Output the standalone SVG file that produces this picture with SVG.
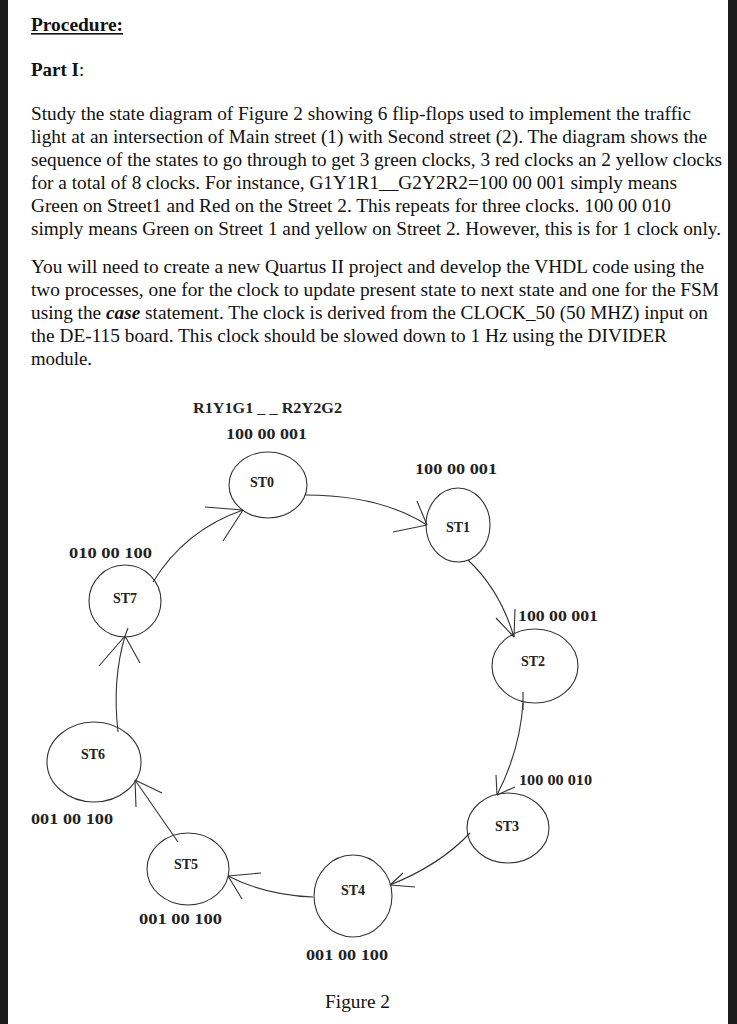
<svg xmlns="http://www.w3.org/2000/svg" width="737" height="1024" viewBox="0 0 737 1024">
<style>
.p{font-family:"Liberation Serif","Times New Roman",serif;font-size:19px;fill:#111}
.b{font-weight:bold}
.d{font-family:"Liberation Serif","Times New Roman",serif;font-size:14px;font-weight:bold;fill:#222}
.st{font-family:"Liberation Serif","Times New Roman",serif;font-size:14px;font-weight:bold;fill:#222;text-anchor:middle}
.n{fill:none;stroke:#333;stroke-width:1.1}
.e{fill:none;stroke:#333;stroke-width:1.1}
</style>
<rect x="0" y="0" width="737" height="1024" fill="#fff"/>
<rect x="0" y="0" width="8" height="1024" fill="#1c1c1c"/>
<rect x="728" y="0" width="9" height="1024" fill="#1c1c1c"/>

<text class="p b" x="31" y="31" textLength="92" lengthAdjust="spacingAndGlyphs">Procedure:</text>
<rect x="31" y="33" width="92" height="1.6" fill="#111"/>
<text class="p" x="31" y="76"><tspan class="b">Part I</tspan>:</text>

<text class="p" x="31" y="120" textLength="660" lengthAdjust="spacingAndGlyphs">Study the state diagram of Figure 2 showing 6 flip-flops used to implement the traffic</text>
<text class="p" x="31" y="143" textLength="676" lengthAdjust="spacingAndGlyphs">light at an intersection of Main street (1) with Second street (2). The diagram shows the</text>
<text class="p" x="31" y="166" textLength="691" lengthAdjust="spacingAndGlyphs">sequence of the states to go through to get 3 green clocks, 3 red clocks an 2 yellow clocks</text>
<text class="p" x="31" y="189" textLength="646" lengthAdjust="spacingAndGlyphs">for a total of 8 clocks. For instance, G1Y1R1__G2Y2R2=100 00 001 simply means</text>
<text class="p" x="31" y="212" textLength="640" lengthAdjust="spacingAndGlyphs">Green on Street1 and Red on the Street 2. This repeats for three clocks. 100 00 010</text>
<text class="p" x="31" y="235" textLength="690" lengthAdjust="spacingAndGlyphs">simply means Green on Street 1 and yellow on Street 2. However, this is for 1 clock only.</text>

<text class="p" x="31" y="273" textLength="673" lengthAdjust="spacingAndGlyphs">You will need to create a new Quartus II project and develop the VHDL code using the</text>
<text class="p" x="31" y="296" textLength="688" lengthAdjust="spacingAndGlyphs">two processes, one for the clock to update present state to next state and one for the FSM</text>
<text class="p" x="31" y="319" textLength="677" lengthAdjust="spacingAndGlyphs">using the <tspan class="b" font-style="italic">case</tspan> statement. The clock is derived from the CLOCK_50 (50 MHZ) input on</text>
<text class="p" x="31" y="342" textLength="636" lengthAdjust="spacingAndGlyphs">the DE-115 board. This clock should be slowed down to 1 Hz using the DIVIDER</text>
<text class="p" x="31" y="365" textLength="61" lengthAdjust="spacingAndGlyphs">module.</text>

<text class="d" x="193" y="413" textLength="149" lengthAdjust="spacingAndGlyphs">R1Y1G1 _ _ R2Y2G2</text>
<text class="d" x="226" y="439" textLength="81" lengthAdjust="spacingAndGlyphs">100  00  001</text>

<g id="connectors">
  <path class="e" d="M305,495 Q380,495 427,525"/>
  <path class="e" d="M417,501 L427,525 M393,532 L427,525"/>
  <path class="e" d="M468,560 Q500,590 514,637"/>
  <path class="e" d="M496,618 L514,637 M515,609 L514,637"/>
  <path class="e" d="M523,703 Q520,750 497,795"/>
  <path class="e" d="M496,775 L497,795 M515,787 L497,795 M523,692 L523,710"/>
  <path class="e" d="M470,833 Q440,865 390,885"/>
  <path class="e" d="M403,873 L390,885 M415,887 L390,885"/>
  <path class="e" d="M313,897 Q265,895 228,876"/>
  <path class="e" d="M261,873 L228,876 M242,899 L228,876"/>
  <path class="e" d="M178,842 L135,780"/>
  <path class="e" d="M162,793 L135,780 M136,807 L135,780"/>
  <path class="e" d="M118,732 Q112,680 125,636"/>
  <path class="e" d="M99,666 L125,636 M140,663 L125,636 M128,628 L125,636"/>
  <path class="e" d="M153,582 Q185,530 243,510"/>
  <path class="e" d="M205,507 L243,510 M223,541 L243,510"/>
</g>

<g id="ST0"><ellipse class="n" cx="268" cy="485" rx="39" ry="33"/><text class="st" x="262" y="487">ST0</text></g>
<g id="ST1"><ellipse class="n" cx="458" cy="525" rx="32" ry="37"/><text class="st" x="458" y="532">ST1</text>
  <text class="d" x="415" y="474" textLength="82" lengthAdjust="spacingAndGlyphs">100  00  001</text></g>
<g id="ST2"><ellipse class="n" cx="535" cy="666" rx="43" ry="37"/><text class="st" x="533" y="666">ST2</text>
  <text class="d" x="518" y="621" textLength="80" lengthAdjust="spacingAndGlyphs">100  00  001</text></g>
<g id="ST3"><ellipse class="n" cx="508" cy="828" rx="41" ry="35"/><text class="st" x="507" y="831">ST3</text>
  <text class="d" x="519" y="785" textLength="73" lengthAdjust="spacingAndGlyphs">100 00 010</text></g>
<g id="ST4"><ellipse class="n" cx="353" cy="896" rx="39" ry="41"/><text class="st" x="353" y="895">ST4</text>
  <text class="d" x="306" y="960" textLength="82" lengthAdjust="spacingAndGlyphs">001  00  100</text></g>
<g id="ST5"><ellipse class="n" cx="188" cy="869" rx="41" ry="36"/><text class="st" x="186" y="869">ST5</text>
  <text class="d" x="139" y="924" textLength="83" lengthAdjust="spacingAndGlyphs">001  00  100</text></g>
<g id="ST6"><ellipse class="n" cx="94" cy="762" rx="47" ry="40"/><text class="st" x="93" y="759">ST6</text>
  <text class="d" x="31" y="824" textLength="82" lengthAdjust="spacingAndGlyphs">001  00  100</text></g>
<g id="ST7"><ellipse class="n" cx="125" cy="601" rx="36" ry="36"/><text class="st" x="125" y="603">ST7</text>
  <text class="d" x="69" y="558" textLength="83" lengthAdjust="spacingAndGlyphs">010  00  100</text></g>

<text class="p" x="325" y="1008" textLength="65" lengthAdjust="spacingAndGlyphs">Figure 2</text>
</svg>
